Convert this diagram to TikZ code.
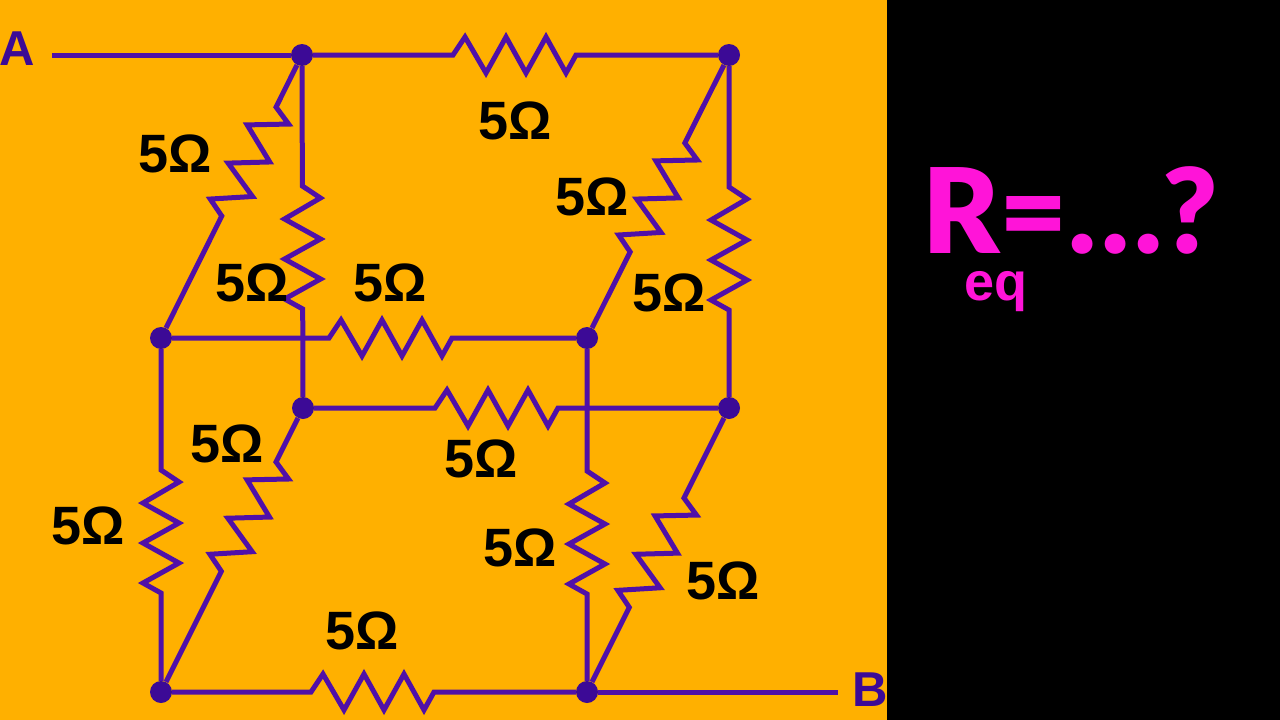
\documentclass[tikz,border=0pt]{standalone}
\usepackage{fontspec}
\setmainfont{Liberation Sans}
\newfontfamily\questionfont{Lato Black}
\usetikzlibrary{calc}

\definecolor{board}{HTML}{FFB000}
\definecolor{wire}{HTML}{5010A8}
\definecolor{joint}{HTML}{3C0A96}
\definecolor{title}{HTML}{FF14D8}

% sheared resistor on a slanted wire, #3 is where it starts along the wire
\newcommand{\diagres}[3]{
    \draw[wirepath] (#1) -- ($(#1)!#3!(#2)$)
        -- ($(#1)!#3+.060!(#2)+(21,0)$) -- ($(#1)!#3+.063!(#2)+(-20,0)$)
        -- ($(#1)!#3+.194!(#2)+(21,0)$) -- ($(#1)!#3+.198!(#2)+(-20,0)$)
        -- ($(#1)!#3+.316!(#2)+(21,0)$) -- ($(#1)!#3+.325!(#2)+(-20,0)$)
        -- ($(#1)!#3+.385!(#2)$) -- (#2);
}
% resistor on a straight wire, #3 is its distance from #1, #4 the side of its first tooth
\newcommand{\straightres}[4]{
    \draw[wirepath] (#1) -- ($(#1)!#3!(#2)$)
        -- ($(#1)!#3+12pt!(#2)+18*#4$) -- ($(#1)!#3+33pt!(#2)-18*#4$)
        -- ($(#1)!#3+53pt!(#2)+18*#4$) -- ($(#1)!#3+73pt!(#2)-18*#4$)
        -- ($(#1)!#3+93pt!(#2)+18*#4$) -- ($(#1)!#3+113pt!(#2)-18*#4$)
        -- ($(#1)!#3+123pt!(#2)$) -- (#2);
}

\begin{document}
\begin{tikzpicture}[
    x=1pt, y=-1pt,
    wirepath/.style={draw=wire, line width=5pt, line join=miter},
    joint/.style={circle, fill=joint, inner sep=0pt, minimum size=22pt},
    value/.style={font=\fontsize{54}{54}\selectfont\bfseries, text=black, inner sep=0pt},
    terminal/.style={font=\fontsize{49}{49}\selectfont\bfseries, text=joint, inner sep=0pt}
]
    \useasboundingbox (0,0) rectangle (1280,720);
    \fill[board] (0,0) rectangle (887,720);
    \fill[black] (887,0) rectangle (1280,720);

    % Joints
    \node[joint] (topl) at (302,55) {};
    \node[joint] (topr) at (729,55) {};
    \node[joint] (midl) at (161,338) {};
    \node[joint] (midr) at (587,338) {};
    \node[joint] (lowl) at (303,408) {};
    \node[joint] (lowr) at (729,408) {};
    \node[joint] (botl) at (161,692) {};
    \node[joint] (botr) at (587,692) {};
    \coordinate (astart) at (52,55);
    \coordinate (bend) at (838,692);

    % Terminals
    \node[terminal] (termA) at (17,49) {A};
    \node[terminal] (termB) at (870,690) {B};

    % Wires
    \draw[wirepath] (astart) -- (topl);
    \draw[wirepath] (botr) -- (bend);

    % Straight resistors
    \straightres{topl}{topr}{151pt}{(0,-1)}
    \straightres{midl}{midr}{168pt}{(0,-1)}
    \straightres{lowl}{lowr}{132pt}{(0,-1)}
    \straightres{botl}{botr}{150pt}{(0,-1)}
    \straightres{topl}{lowl}{131pt}{(1,0)}
    \straightres{topr}{lowr}{132pt}{(1,0)}
    \straightres{midl}{botl}{132pt}{(1,0)}
    \straightres{midr}{botr}{133pt}{(1,0)}

    % Slanted resistors
    \diagres{topl}{midl}{.184}
    \diagres{topr}{midr}{.311}
    \diagres{lowl}{botl}{.190}
    \diagres{lowr}{botr}{.317}

    % Values
    \node[value] (val1) at (175,154) {5Ω};
    \node[value] (val2) at (515,121) {5Ω};
    \node[value] (val3) at (592,197) {5Ω};
    \node[value] (val4) at (252,283) {5Ω};
    \node[value] (val5) at (390,283) {5Ω};
    \node[value] (val6) at (669,293) {5Ω};
    \node[value] (val7) at (227,444) {5Ω};
    \node[value] (val8) at (481,459) {5Ω};
    \node[value] (val9) at (88,526) {5Ω};
    \node[value] (val10) at (520,548) {5Ω};
    \node[value] (val11) at (723,581) {5Ω};
    \node[value] (val12) at (362,631) {5Ω};

    % Question
    \node[font=\questionfont\fontsize{118}{118}\selectfont, text=title, inner sep=0pt, anchor=base west] (req) at (922,253) {R=.\kern5pt.\kern5pt.?};
    \node[font=\fontsize{54}{54}\selectfont\bfseries, text=title, inner sep=0pt, anchor=base] (sub) at (996,300) {eq};
\end{tikzpicture}
\end{document}
